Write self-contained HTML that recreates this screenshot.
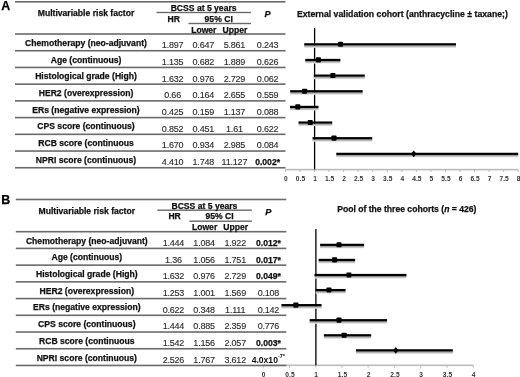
<!DOCTYPE html>
<html><head><meta charset="utf-8"><style>
html,body{margin:0;padding:0;background:#fff;}
svg{display:block;font-family:"Liberation Sans",Arial,sans-serif;}
</style></head><body>
<svg width="520" height="377" viewBox="0 0 520 377">
<defs><linearGradient id="sh" x1="0" y1="0" x2="0" y2="1"><stop offset="0" stop-color="#888"/><stop offset="1" stop-color="#ececec"/></linearGradient></defs>
<rect width="520" height="377" fill="#fff"/>
<text x="296.90" y="17.30" font-size="8.7" font-weight="bold" text-anchor="start" fill="#111" stroke="#111" stroke-width="0.25">External validation cohort (anthracycline ± taxane;)</text>
<rect x="285.40" y="168.80" width="232.80" height="1.60" fill="#bcbcbc"/>
<rect x="284.90" y="169.60" width="1.00" height="2.40" fill="#bcbcbc"/>
<text x="285.90" y="181.20" font-size="6.6" font-weight="bold" text-anchor="middle" fill="#333" letter-spacing="0.05">0</text>
<rect x="299.45" y="169.60" width="1.00" height="2.40" fill="#bcbcbc"/>
<text x="300.45" y="181.20" font-size="6.6" font-weight="bold" text-anchor="middle" fill="#333" letter-spacing="0.05">0.5</text>
<rect x="314.00" y="169.60" width="1.00" height="2.40" fill="#bcbcbc"/>
<text x="315.00" y="181.20" font-size="6.6" font-weight="bold" text-anchor="middle" fill="#333" letter-spacing="0.05">1</text>
<rect x="328.55" y="169.60" width="1.00" height="2.40" fill="#bcbcbc"/>
<text x="329.55" y="181.20" font-size="6.6" font-weight="bold" text-anchor="middle" fill="#333" letter-spacing="0.05">1.5</text>
<rect x="343.10" y="169.60" width="1.00" height="2.40" fill="#bcbcbc"/>
<text x="344.10" y="181.20" font-size="6.6" font-weight="bold" text-anchor="middle" fill="#333" letter-spacing="0.05">2</text>
<rect x="357.65" y="169.60" width="1.00" height="2.40" fill="#bcbcbc"/>
<text x="358.65" y="181.20" font-size="6.6" font-weight="bold" text-anchor="middle" fill="#333" letter-spacing="0.05">2.5</text>
<rect x="372.20" y="169.60" width="1.00" height="2.40" fill="#bcbcbc"/>
<text x="373.20" y="181.20" font-size="6.6" font-weight="bold" text-anchor="middle" fill="#333" letter-spacing="0.05">3</text>
<rect x="386.75" y="169.60" width="1.00" height="2.40" fill="#bcbcbc"/>
<text x="387.75" y="181.20" font-size="6.6" font-weight="bold" text-anchor="middle" fill="#333" letter-spacing="0.05">3.5</text>
<rect x="401.30" y="169.60" width="1.00" height="2.40" fill="#bcbcbc"/>
<text x="402.30" y="181.20" font-size="6.6" font-weight="bold" text-anchor="middle" fill="#333" letter-spacing="0.05">4</text>
<rect x="415.85" y="169.60" width="1.00" height="2.40" fill="#bcbcbc"/>
<text x="416.85" y="181.20" font-size="6.6" font-weight="bold" text-anchor="middle" fill="#333" letter-spacing="0.05">4.5</text>
<rect x="430.40" y="169.60" width="1.00" height="2.40" fill="#bcbcbc"/>
<text x="431.40" y="181.20" font-size="6.6" font-weight="bold" text-anchor="middle" fill="#333" letter-spacing="0.05">5</text>
<rect x="444.95" y="169.60" width="1.00" height="2.40" fill="#bcbcbc"/>
<text x="445.95" y="181.20" font-size="6.6" font-weight="bold" text-anchor="middle" fill="#333" letter-spacing="0.05">5.5</text>
<rect x="459.50" y="169.60" width="1.00" height="2.40" fill="#bcbcbc"/>
<text x="460.50" y="181.20" font-size="6.6" font-weight="bold" text-anchor="middle" fill="#333" letter-spacing="0.05">6</text>
<rect x="474.05" y="169.60" width="1.00" height="2.40" fill="#bcbcbc"/>
<text x="475.05" y="181.20" font-size="6.6" font-weight="bold" text-anchor="middle" fill="#333" letter-spacing="0.05">6.5</text>
<rect x="488.60" y="169.60" width="1.00" height="2.40" fill="#bcbcbc"/>
<text x="489.60" y="181.20" font-size="6.6" font-weight="bold" text-anchor="middle" fill="#333" letter-spacing="0.05">7</text>
<rect x="503.15" y="169.60" width="1.00" height="2.40" fill="#bcbcbc"/>
<text x="504.15" y="181.20" font-size="6.6" font-weight="bold" text-anchor="middle" fill="#333" letter-spacing="0.05">7.5</text>
<rect x="517.70" y="169.60" width="1.00" height="2.40" fill="#bcbcbc"/>
<text x="518.70" y="181.20" font-size="6.6" font-weight="bold" text-anchor="middle" fill="#333" letter-spacing="0.05">8</text>
<rect x="313.95" y="28.00" width="1.30" height="141.60" fill="#000"/>
<rect x="304.23" y="45.30" width="151.73" height="2.6" fill="url(#sh)"/>
<rect x="304.23" y="43.20" width="151.73" height="2.20" fill="#000"/>
<rect x="338.10" y="41.70" width="5.0" height="5.1" rx="0.7" fill="#000"/>
<rect x="305.25" y="60.95" width="35.12" height="2.6" fill="url(#sh)"/>
<rect x="305.25" y="58.85" width="35.12" height="2.20" fill="#000"/>
<rect x="315.93" y="57.35" width="5.0" height="5.1" rx="0.7" fill="#000"/>
<rect x="313.80" y="76.60" width="51.01" height="2.6" fill="url(#sh)"/>
<rect x="313.80" y="74.50" width="51.01" height="2.20" fill="#000"/>
<rect x="330.39" y="73.00" width="5.0" height="5.1" rx="0.7" fill="#000"/>
<rect x="290.17" y="92.25" width="72.49" height="2.6" fill="url(#sh)"/>
<rect x="290.17" y="90.15" width="72.49" height="2.20" fill="#000"/>
<rect x="302.11" y="88.65" width="5.0" height="5.1" rx="0.7" fill="#000"/>
<rect x="290.03" y="107.90" width="28.46" height="2.6" fill="url(#sh)"/>
<rect x="290.03" y="105.80" width="28.46" height="2.20" fill="#000"/>
<rect x="295.27" y="104.30" width="5.0" height="5.1" rx="0.7" fill="#000"/>
<rect x="298.52" y="123.55" width="33.73" height="2.6" fill="url(#sh)"/>
<rect x="298.52" y="121.45" width="33.73" height="2.20" fill="#000"/>
<rect x="307.69" y="119.95" width="5.0" height="5.1" rx="0.7" fill="#000"/>
<rect x="312.58" y="139.20" width="59.68" height="2.6" fill="url(#sh)"/>
<rect x="312.58" y="137.10" width="59.68" height="2.20" fill="#000"/>
<rect x="331.50" y="135.60" width="5.0" height="5.1" rx="0.7" fill="#000"/>
<rect x="336.27" y="154.85" width="181.93" height="2.6" fill="url(#sh)"/>
<rect x="336.27" y="152.75" width="181.93" height="2.20" fill="#000"/>
<polygon points="413.73,150.45 416.43,153.85 413.73,157.25 411.03,153.85" fill="#000"/>
<text x="337.20" y="212.10" font-size="8.6" font-weight="bold" text-anchor="start" fill="#111" stroke="#111" stroke-width="0.25">Pool of the three cohorts (<tspan font-style="italic">n</tspan> = 426)</text>
<rect x="263.20" y="364.50" width="210.00" height="1.60" fill="#bcbcbc"/>
<rect x="262.70" y="365.30" width="1.00" height="2.40" fill="#bcbcbc"/>
<text x="263.70" y="376.90" font-size="6.6" font-weight="bold" text-anchor="middle" fill="#333" letter-spacing="0.05">0</text>
<rect x="288.95" y="365.30" width="1.00" height="2.40" fill="#bcbcbc"/>
<text x="289.95" y="376.90" font-size="6.6" font-weight="bold" text-anchor="middle" fill="#333" letter-spacing="0.05">0.5</text>
<rect x="315.20" y="365.30" width="1.00" height="2.40" fill="#bcbcbc"/>
<text x="316.20" y="376.90" font-size="6.6" font-weight="bold" text-anchor="middle" fill="#333" letter-spacing="0.05">1</text>
<rect x="341.45" y="365.30" width="1.00" height="2.40" fill="#bcbcbc"/>
<text x="342.45" y="376.90" font-size="6.6" font-weight="bold" text-anchor="middle" fill="#333" letter-spacing="0.05">1.5</text>
<rect x="367.70" y="365.30" width="1.00" height="2.40" fill="#bcbcbc"/>
<text x="368.70" y="376.90" font-size="6.6" font-weight="bold" text-anchor="middle" fill="#333" letter-spacing="0.05">2</text>
<rect x="393.95" y="365.30" width="1.00" height="2.40" fill="#bcbcbc"/>
<text x="394.95" y="376.90" font-size="6.6" font-weight="bold" text-anchor="middle" fill="#333" letter-spacing="0.05">2.5</text>
<rect x="420.20" y="365.30" width="1.00" height="2.40" fill="#bcbcbc"/>
<text x="421.20" y="376.90" font-size="6.6" font-weight="bold" text-anchor="middle" fill="#333" letter-spacing="0.05">3</text>
<rect x="446.45" y="365.30" width="1.00" height="2.40" fill="#bcbcbc"/>
<text x="447.45" y="376.90" font-size="6.6" font-weight="bold" text-anchor="middle" fill="#333" letter-spacing="0.05">3.5</text>
<rect x="472.70" y="365.30" width="1.00" height="2.40" fill="#bcbcbc"/>
<text x="473.70" y="376.90" font-size="6.6" font-weight="bold" text-anchor="middle" fill="#333" letter-spacing="0.05">4</text>
<rect x="315.25" y="229.10" width="1.30" height="136.20" fill="#000"/>
<rect x="320.11" y="245.85" width="44.00" height="2.6" fill="url(#sh)"/>
<rect x="320.11" y="243.75" width="44.00" height="2.20" fill="#000"/>
<rect x="336.51" y="242.25" width="5.0" height="5.1" rx="0.7" fill="#000"/>
<rect x="318.64" y="260.92" width="36.49" height="2.6" fill="url(#sh)"/>
<rect x="318.64" y="258.82" width="36.49" height="2.20" fill="#000"/>
<rect x="332.10" y="257.32" width="5.0" height="5.1" rx="0.7" fill="#000"/>
<rect x="314.44" y="275.99" width="92.03" height="2.6" fill="url(#sh)"/>
<rect x="314.44" y="273.89" width="92.03" height="2.20" fill="#000"/>
<rect x="346.38" y="272.39" width="5.0" height="5.1" rx="0.7" fill="#000"/>
<rect x="315.75" y="291.06" width="29.82" height="2.6" fill="url(#sh)"/>
<rect x="315.75" y="288.96" width="29.82" height="2.20" fill="#000"/>
<rect x="326.48" y="287.46" width="5.0" height="5.1" rx="0.7" fill="#000"/>
<rect x="281.47" y="306.13" width="40.06" height="2.6" fill="url(#sh)"/>
<rect x="281.47" y="304.03" width="40.06" height="2.20" fill="#000"/>
<rect x="293.36" y="302.53" width="5.0" height="5.1" rx="0.7" fill="#000"/>
<rect x="309.66" y="321.20" width="77.39" height="2.6" fill="url(#sh)"/>
<rect x="309.66" y="319.10" width="77.39" height="2.20" fill="#000"/>
<rect x="336.51" y="317.60" width="5.0" height="5.1" rx="0.7" fill="#000"/>
<rect x="323.89" y="336.27" width="47.30" height="2.6" fill="url(#sh)"/>
<rect x="323.89" y="334.17" width="47.30" height="2.20" fill="#000"/>
<rect x="341.65" y="332.67" width="5.0" height="5.1" rx="0.7" fill="#000"/>
<rect x="355.97" y="351.34" width="96.86" height="2.6" fill="url(#sh)"/>
<rect x="355.97" y="349.24" width="96.86" height="2.20" fill="#000"/>
<polygon points="395.81,346.94 398.51,350.34 395.81,353.74 393.11,350.34" fill="#000"/>
<text x="1.30" y="9.80" font-size="12.4" font-weight="bold" text-anchor="start" fill="#000" stroke="#000" stroke-width="0.25">A</text>
<rect x="15.00" y="1.00" width="270.50" height="1.60" fill="#6a6a6a"/>
<rect x="156.50" y="11.80" width="94.50" height="1.40" fill="#6a6a6a"/>
<rect x="188.50" y="22.80" width="62.50" height="1.40" fill="#6a6a6a"/>
<rect x="15.00" y="33.20" width="270.50" height="1.60" fill="#6a6a6a"/>
<rect x="15.00" y="49.92" width="270.50" height="1.60" fill="#6a6a6a"/>
<rect x="15.00" y="66.64" width="270.50" height="1.60" fill="#6a6a6a"/>
<rect x="15.00" y="83.36" width="270.50" height="1.60" fill="#6a6a6a"/>
<rect x="15.00" y="100.08" width="270.50" height="1.60" fill="#6a6a6a"/>
<rect x="15.00" y="116.80" width="270.50" height="1.60" fill="#6a6a6a"/>
<rect x="15.00" y="133.52" width="270.50" height="1.60" fill="#6a6a6a"/>
<rect x="15.00" y="150.24" width="270.50" height="1.60" fill="#6a6a6a"/>
<rect x="15.00" y="166.96" width="270.50" height="1.60" fill="#6a6a6a"/>
<text x="86.00" y="16.00" font-size="8.6" font-weight="bold" text-anchor="middle" fill="#111" stroke="#111" stroke-width="0.25">Multivariable risk factor</text>
<text x="203.60" y="11.00" font-size="8.6" font-weight="bold" text-anchor="middle" fill="#111" stroke="#111" stroke-width="0.25">BCSS at 5 years</text>
<text x="173.80" y="21.50" font-size="8.6" font-weight="bold" text-anchor="middle" fill="#111" stroke="#111" stroke-width="0.25">HR</text>
<text x="218.70" y="21.50" font-size="8.6" font-weight="bold" text-anchor="middle" fill="#111" stroke="#111" stroke-width="0.25">95% CI</text>
<text x="203.80" y="32.50" font-size="8.6" font-weight="bold" text-anchor="middle" fill="#111" stroke="#111" stroke-width="0.25">Lower</text>
<text x="234.90" y="32.50" font-size="8.6" font-weight="bold" text-anchor="middle" fill="#111" stroke="#111" stroke-width="0.25">Upper</text>
<text x="267.50" y="17.10" font-size="9.2" font-weight="bold" text-anchor="middle" fill="#111" stroke="#111" stroke-width="0.25" font-style="italic">P</text>
<text x="86.00" y="45.80" font-size="8.6" font-weight="bold" text-anchor="middle" fill="#111" stroke="#111" stroke-width="0.25">Chemotherapy (neo-adjuvant)</text>
<text x="172.60" y="48.10" font-size="9.0" font-weight="normal" text-anchor="middle" fill="#2a2a2a" stroke="#2a2a2a" stroke-width="0.12" letter-spacing="-0.2">1.897</text>
<text x="203.30" y="48.10" font-size="9.0" font-weight="normal" text-anchor="middle" fill="#2a2a2a" stroke="#2a2a2a" stroke-width="0.12" letter-spacing="-0.2">0.647</text>
<text x="234.40" y="48.10" font-size="9.0" font-weight="normal" text-anchor="middle" fill="#2a2a2a" stroke="#2a2a2a" stroke-width="0.12" letter-spacing="-0.2">5.861</text>
<text x="267.60" y="48.10" font-size="9.0" font-weight="normal" text-anchor="middle" fill="#2a2a2a" stroke="#2a2a2a" stroke-width="0.12" letter-spacing="-0.2">0.243</text>
<text x="86.00" y="62.52" font-size="8.6" font-weight="bold" text-anchor="middle" fill="#111" stroke="#111" stroke-width="0.25">Age (continuous)</text>
<text x="172.60" y="64.82" font-size="9.0" font-weight="normal" text-anchor="middle" fill="#2a2a2a" stroke="#2a2a2a" stroke-width="0.12" letter-spacing="-0.2">1.135</text>
<text x="203.30" y="64.82" font-size="9.0" font-weight="normal" text-anchor="middle" fill="#2a2a2a" stroke="#2a2a2a" stroke-width="0.12" letter-spacing="-0.2">0.682</text>
<text x="234.40" y="64.82" font-size="9.0" font-weight="normal" text-anchor="middle" fill="#2a2a2a" stroke="#2a2a2a" stroke-width="0.12" letter-spacing="-0.2">1.889</text>
<text x="267.60" y="64.82" font-size="9.0" font-weight="normal" text-anchor="middle" fill="#2a2a2a" stroke="#2a2a2a" stroke-width="0.12" letter-spacing="-0.2">0.626</text>
<text x="86.00" y="79.24" font-size="8.6" font-weight="bold" text-anchor="middle" fill="#111" stroke="#111" stroke-width="0.25">Histological grade (High)</text>
<text x="172.60" y="81.54" font-size="9.0" font-weight="normal" text-anchor="middle" fill="#2a2a2a" stroke="#2a2a2a" stroke-width="0.12" letter-spacing="-0.2">1.632</text>
<text x="203.30" y="81.54" font-size="9.0" font-weight="normal" text-anchor="middle" fill="#2a2a2a" stroke="#2a2a2a" stroke-width="0.12" letter-spacing="-0.2">0.976</text>
<text x="234.40" y="81.54" font-size="9.0" font-weight="normal" text-anchor="middle" fill="#2a2a2a" stroke="#2a2a2a" stroke-width="0.12" letter-spacing="-0.2">2.729</text>
<text x="267.60" y="81.54" font-size="9.0" font-weight="normal" text-anchor="middle" fill="#2a2a2a" stroke="#2a2a2a" stroke-width="0.12" letter-spacing="-0.2">0.062</text>
<text x="86.00" y="95.96" font-size="8.6" font-weight="bold" text-anchor="middle" fill="#111" stroke="#111" stroke-width="0.25">HER2 (overexpression)</text>
<text x="172.60" y="98.26" font-size="9.0" font-weight="normal" text-anchor="middle" fill="#2a2a2a" stroke="#2a2a2a" stroke-width="0.12" letter-spacing="-0.2">0.66</text>
<text x="203.30" y="98.26" font-size="9.0" font-weight="normal" text-anchor="middle" fill="#2a2a2a" stroke="#2a2a2a" stroke-width="0.12" letter-spacing="-0.2">0.164</text>
<text x="234.40" y="98.26" font-size="9.0" font-weight="normal" text-anchor="middle" fill="#2a2a2a" stroke="#2a2a2a" stroke-width="0.12" letter-spacing="-0.2">2.655</text>
<text x="267.60" y="98.26" font-size="9.0" font-weight="normal" text-anchor="middle" fill="#2a2a2a" stroke="#2a2a2a" stroke-width="0.12" letter-spacing="-0.2">0.559</text>
<text x="86.00" y="112.68" font-size="8.6" font-weight="bold" text-anchor="middle" fill="#111" stroke="#111" stroke-width="0.25">ERs (negative expression)</text>
<text x="172.60" y="114.98" font-size="9.0" font-weight="normal" text-anchor="middle" fill="#2a2a2a" stroke="#2a2a2a" stroke-width="0.12" letter-spacing="-0.2">0.425</text>
<text x="203.30" y="114.98" font-size="9.0" font-weight="normal" text-anchor="middle" fill="#2a2a2a" stroke="#2a2a2a" stroke-width="0.12" letter-spacing="-0.2">0.159</text>
<text x="234.40" y="114.98" font-size="9.0" font-weight="normal" text-anchor="middle" fill="#2a2a2a" stroke="#2a2a2a" stroke-width="0.12" letter-spacing="-0.2">1.137</text>
<text x="267.60" y="114.98" font-size="9.0" font-weight="normal" text-anchor="middle" fill="#2a2a2a" stroke="#2a2a2a" stroke-width="0.12" letter-spacing="-0.2">0.088</text>
<text x="86.00" y="129.40" font-size="8.6" font-weight="bold" text-anchor="middle" fill="#111" stroke="#111" stroke-width="0.25">CPS score (continuous)</text>
<text x="172.60" y="131.70" font-size="9.0" font-weight="normal" text-anchor="middle" fill="#2a2a2a" stroke="#2a2a2a" stroke-width="0.12" letter-spacing="-0.2">0.852</text>
<text x="203.30" y="131.70" font-size="9.0" font-weight="normal" text-anchor="middle" fill="#2a2a2a" stroke="#2a2a2a" stroke-width="0.12" letter-spacing="-0.2">0.451</text>
<text x="234.40" y="131.70" font-size="9.0" font-weight="normal" text-anchor="middle" fill="#2a2a2a" stroke="#2a2a2a" stroke-width="0.12" letter-spacing="-0.2">1.61</text>
<text x="267.60" y="131.70" font-size="9.0" font-weight="normal" text-anchor="middle" fill="#2a2a2a" stroke="#2a2a2a" stroke-width="0.12" letter-spacing="-0.2">0.622</text>
<text x="86.00" y="146.12" font-size="8.6" font-weight="bold" text-anchor="middle" fill="#111" stroke="#111" stroke-width="0.25">RCB score (continuous</text>
<text x="172.60" y="148.42" font-size="9.0" font-weight="normal" text-anchor="middle" fill="#2a2a2a" stroke="#2a2a2a" stroke-width="0.12" letter-spacing="-0.2">1.670</text>
<text x="203.30" y="148.42" font-size="9.0" font-weight="normal" text-anchor="middle" fill="#2a2a2a" stroke="#2a2a2a" stroke-width="0.12" letter-spacing="-0.2">0.934</text>
<text x="234.40" y="148.42" font-size="9.0" font-weight="normal" text-anchor="middle" fill="#2a2a2a" stroke="#2a2a2a" stroke-width="0.12" letter-spacing="-0.2">2.985</text>
<text x="267.60" y="148.42" font-size="9.0" font-weight="normal" text-anchor="middle" fill="#2a2a2a" stroke="#2a2a2a" stroke-width="0.12" letter-spacing="-0.2">0.084</text>
<text x="86.00" y="162.84" font-size="8.6" font-weight="bold" text-anchor="middle" fill="#111" stroke="#111" stroke-width="0.25">NPRI score (continuous)</text>
<text x="172.60" y="165.14" font-size="9.0" font-weight="normal" text-anchor="middle" fill="#2a2a2a" stroke="#2a2a2a" stroke-width="0.12" letter-spacing="-0.2">4.410</text>
<text x="203.30" y="165.14" font-size="9.0" font-weight="normal" text-anchor="middle" fill="#2a2a2a" stroke="#2a2a2a" stroke-width="0.12" letter-spacing="-0.2">1.748</text>
<text x="234.40" y="165.14" font-size="9.0" font-weight="normal" text-anchor="middle" fill="#2a2a2a" stroke="#2a2a2a" stroke-width="0.12" letter-spacing="-0.2">11.127</text>
<text x="267.60" y="165.14" font-size="8.6" font-weight="bold" text-anchor="middle" fill="#111" stroke="#111" stroke-width="0.25">0.002*</text>
<text x="1.30" y="204.30" font-size="12.4" font-weight="bold" text-anchor="start" fill="#000" stroke="#000" stroke-width="0.25">B</text>
<rect x="15.80" y="198.70" width="270.50" height="1.60" fill="#6a6a6a"/>
<rect x="157.30" y="209.50" width="94.50" height="1.40" fill="#6a6a6a"/>
<rect x="189.30" y="220.50" width="62.50" height="1.40" fill="#6a6a6a"/>
<rect x="15.80" y="230.90" width="270.50" height="1.60" fill="#6a6a6a"/>
<rect x="15.80" y="247.62" width="270.50" height="1.60" fill="#6a6a6a"/>
<rect x="15.80" y="264.34" width="270.50" height="1.60" fill="#6a6a6a"/>
<rect x="15.80" y="281.06" width="270.50" height="1.60" fill="#6a6a6a"/>
<rect x="15.80" y="297.78" width="270.50" height="1.60" fill="#6a6a6a"/>
<rect x="15.80" y="314.50" width="270.50" height="1.60" fill="#6a6a6a"/>
<rect x="15.80" y="331.22" width="270.50" height="1.60" fill="#6a6a6a"/>
<rect x="15.80" y="347.94" width="270.50" height="1.60" fill="#6a6a6a"/>
<rect x="15.80" y="364.66" width="270.50" height="1.60" fill="#6a6a6a"/>
<text x="86.80" y="213.70" font-size="8.6" font-weight="bold" text-anchor="middle" fill="#111" stroke="#111" stroke-width="0.25">Multivariable risk factor</text>
<text x="204.40" y="208.70" font-size="8.6" font-weight="bold" text-anchor="middle" fill="#111" stroke="#111" stroke-width="0.25">BCSS at 5 years</text>
<text x="174.60" y="219.20" font-size="8.6" font-weight="bold" text-anchor="middle" fill="#111" stroke="#111" stroke-width="0.25">HR</text>
<text x="219.50" y="219.20" font-size="8.6" font-weight="bold" text-anchor="middle" fill="#111" stroke="#111" stroke-width="0.25">95% CI</text>
<text x="204.60" y="230.20" font-size="8.6" font-weight="bold" text-anchor="middle" fill="#111" stroke="#111" stroke-width="0.25">Lower</text>
<text x="235.70" y="230.20" font-size="8.6" font-weight="bold" text-anchor="middle" fill="#111" stroke="#111" stroke-width="0.25">Upper</text>
<text x="268.30" y="214.80" font-size="9.2" font-weight="bold" text-anchor="middle" fill="#111" stroke="#111" stroke-width="0.25" font-style="italic">P</text>
<text x="86.80" y="243.50" font-size="8.6" font-weight="bold" text-anchor="middle" fill="#111" stroke="#111" stroke-width="0.25">Chemotherapy (neo-adjuvant)</text>
<text x="173.40" y="245.80" font-size="9.0" font-weight="normal" text-anchor="middle" fill="#2a2a2a" stroke="#2a2a2a" stroke-width="0.12" letter-spacing="-0.2">1.444</text>
<text x="204.10" y="245.80" font-size="9.0" font-weight="normal" text-anchor="middle" fill="#2a2a2a" stroke="#2a2a2a" stroke-width="0.12" letter-spacing="-0.2">1.084</text>
<text x="235.20" y="245.80" font-size="9.0" font-weight="normal" text-anchor="middle" fill="#2a2a2a" stroke="#2a2a2a" stroke-width="0.12" letter-spacing="-0.2">1.922</text>
<text x="268.40" y="245.80" font-size="8.6" font-weight="bold" text-anchor="middle" fill="#111" stroke="#111" stroke-width="0.25">0.012*</text>
<text x="86.80" y="260.22" font-size="8.6" font-weight="bold" text-anchor="middle" fill="#111" stroke="#111" stroke-width="0.25">Age (continuous)</text>
<text x="173.40" y="262.52" font-size="9.0" font-weight="normal" text-anchor="middle" fill="#2a2a2a" stroke="#2a2a2a" stroke-width="0.12" letter-spacing="-0.2">1.36</text>
<text x="204.10" y="262.52" font-size="9.0" font-weight="normal" text-anchor="middle" fill="#2a2a2a" stroke="#2a2a2a" stroke-width="0.12" letter-spacing="-0.2">1.056</text>
<text x="235.20" y="262.52" font-size="9.0" font-weight="normal" text-anchor="middle" fill="#2a2a2a" stroke="#2a2a2a" stroke-width="0.12" letter-spacing="-0.2">1.751</text>
<text x="268.40" y="262.52" font-size="8.6" font-weight="bold" text-anchor="middle" fill="#111" stroke="#111" stroke-width="0.25">0.017*</text>
<text x="86.80" y="276.94" font-size="8.6" font-weight="bold" text-anchor="middle" fill="#111" stroke="#111" stroke-width="0.25">Histological grade (High)</text>
<text x="173.40" y="279.24" font-size="9.0" font-weight="normal" text-anchor="middle" fill="#2a2a2a" stroke="#2a2a2a" stroke-width="0.12" letter-spacing="-0.2">1.632</text>
<text x="204.10" y="279.24" font-size="9.0" font-weight="normal" text-anchor="middle" fill="#2a2a2a" stroke="#2a2a2a" stroke-width="0.12" letter-spacing="-0.2">0.976</text>
<text x="235.20" y="279.24" font-size="9.0" font-weight="normal" text-anchor="middle" fill="#2a2a2a" stroke="#2a2a2a" stroke-width="0.12" letter-spacing="-0.2">2.729</text>
<text x="268.40" y="279.24" font-size="8.6" font-weight="bold" text-anchor="middle" fill="#111" stroke="#111" stroke-width="0.25">0.049*</text>
<text x="86.80" y="293.66" font-size="8.6" font-weight="bold" text-anchor="middle" fill="#111" stroke="#111" stroke-width="0.25">HER2 (overexpression)</text>
<text x="173.40" y="295.96" font-size="9.0" font-weight="normal" text-anchor="middle" fill="#2a2a2a" stroke="#2a2a2a" stroke-width="0.12" letter-spacing="-0.2">1.253</text>
<text x="204.10" y="295.96" font-size="9.0" font-weight="normal" text-anchor="middle" fill="#2a2a2a" stroke="#2a2a2a" stroke-width="0.12" letter-spacing="-0.2">1.001</text>
<text x="235.20" y="295.96" font-size="9.0" font-weight="normal" text-anchor="middle" fill="#2a2a2a" stroke="#2a2a2a" stroke-width="0.12" letter-spacing="-0.2">1.569</text>
<text x="268.40" y="295.96" font-size="9.0" font-weight="normal" text-anchor="middle" fill="#2a2a2a" stroke="#2a2a2a" stroke-width="0.12" letter-spacing="-0.2">0.108</text>
<text x="86.80" y="310.38" font-size="8.6" font-weight="bold" text-anchor="middle" fill="#111" stroke="#111" stroke-width="0.25">ERs (negative expression)</text>
<text x="173.40" y="312.68" font-size="9.0" font-weight="normal" text-anchor="middle" fill="#2a2a2a" stroke="#2a2a2a" stroke-width="0.12" letter-spacing="-0.2">0.622</text>
<text x="204.10" y="312.68" font-size="9.0" font-weight="normal" text-anchor="middle" fill="#2a2a2a" stroke="#2a2a2a" stroke-width="0.12" letter-spacing="-0.2">0.348</text>
<text x="235.20" y="312.68" font-size="9.0" font-weight="normal" text-anchor="middle" fill="#2a2a2a" stroke="#2a2a2a" stroke-width="0.12" letter-spacing="-0.2">1.111</text>
<text x="268.40" y="312.68" font-size="9.0" font-weight="normal" text-anchor="middle" fill="#2a2a2a" stroke="#2a2a2a" stroke-width="0.12" letter-spacing="-0.2">0.142</text>
<text x="86.80" y="327.10" font-size="8.6" font-weight="bold" text-anchor="middle" fill="#111" stroke="#111" stroke-width="0.25">CPS score (continuous)</text>
<text x="173.40" y="329.40" font-size="9.0" font-weight="normal" text-anchor="middle" fill="#2a2a2a" stroke="#2a2a2a" stroke-width="0.12" letter-spacing="-0.2">1.444</text>
<text x="204.10" y="329.40" font-size="9.0" font-weight="normal" text-anchor="middle" fill="#2a2a2a" stroke="#2a2a2a" stroke-width="0.12" letter-spacing="-0.2">0.885</text>
<text x="235.20" y="329.40" font-size="9.0" font-weight="normal" text-anchor="middle" fill="#2a2a2a" stroke="#2a2a2a" stroke-width="0.12" letter-spacing="-0.2">2.359</text>
<text x="268.40" y="329.40" font-size="9.0" font-weight="normal" text-anchor="middle" fill="#2a2a2a" stroke="#2a2a2a" stroke-width="0.12" letter-spacing="-0.2">0.776</text>
<text x="86.80" y="343.82" font-size="8.6" font-weight="bold" text-anchor="middle" fill="#111" stroke="#111" stroke-width="0.25">RCB score (continuous</text>
<text x="173.40" y="346.12" font-size="9.0" font-weight="normal" text-anchor="middle" fill="#2a2a2a" stroke="#2a2a2a" stroke-width="0.12" letter-spacing="-0.2">1.542</text>
<text x="204.10" y="346.12" font-size="9.0" font-weight="normal" text-anchor="middle" fill="#2a2a2a" stroke="#2a2a2a" stroke-width="0.12" letter-spacing="-0.2">1.156</text>
<text x="235.20" y="346.12" font-size="9.0" font-weight="normal" text-anchor="middle" fill="#2a2a2a" stroke="#2a2a2a" stroke-width="0.12" letter-spacing="-0.2">2.057</text>
<text x="268.40" y="346.12" font-size="8.6" font-weight="bold" text-anchor="middle" fill="#111" stroke="#111" stroke-width="0.25">0.003*</text>
<text x="86.80" y="360.54" font-size="8.6" font-weight="bold" text-anchor="middle" fill="#111" stroke="#111" stroke-width="0.25">NPRI score (continuous)</text>
<text x="173.40" y="362.84" font-size="9.0" font-weight="normal" text-anchor="middle" fill="#2a2a2a" stroke="#2a2a2a" stroke-width="0.12" letter-spacing="-0.2">2.526</text>
<text x="204.10" y="362.84" font-size="9.0" font-weight="normal" text-anchor="middle" fill="#2a2a2a" stroke="#2a2a2a" stroke-width="0.12" letter-spacing="-0.2">1.767</text>
<text x="235.20" y="362.84" font-size="9.0" font-weight="normal" text-anchor="middle" fill="#2a2a2a" stroke="#2a2a2a" stroke-width="0.12" letter-spacing="-0.2">3.612</text>
<text x="268.30" y="362.84" font-size="8.6" font-weight="bold" text-anchor="middle" fill="#111">4.0x10<tspan font-size="5.5" dy="-4.5">-7*</tspan></text>
</svg>
</body></html>
